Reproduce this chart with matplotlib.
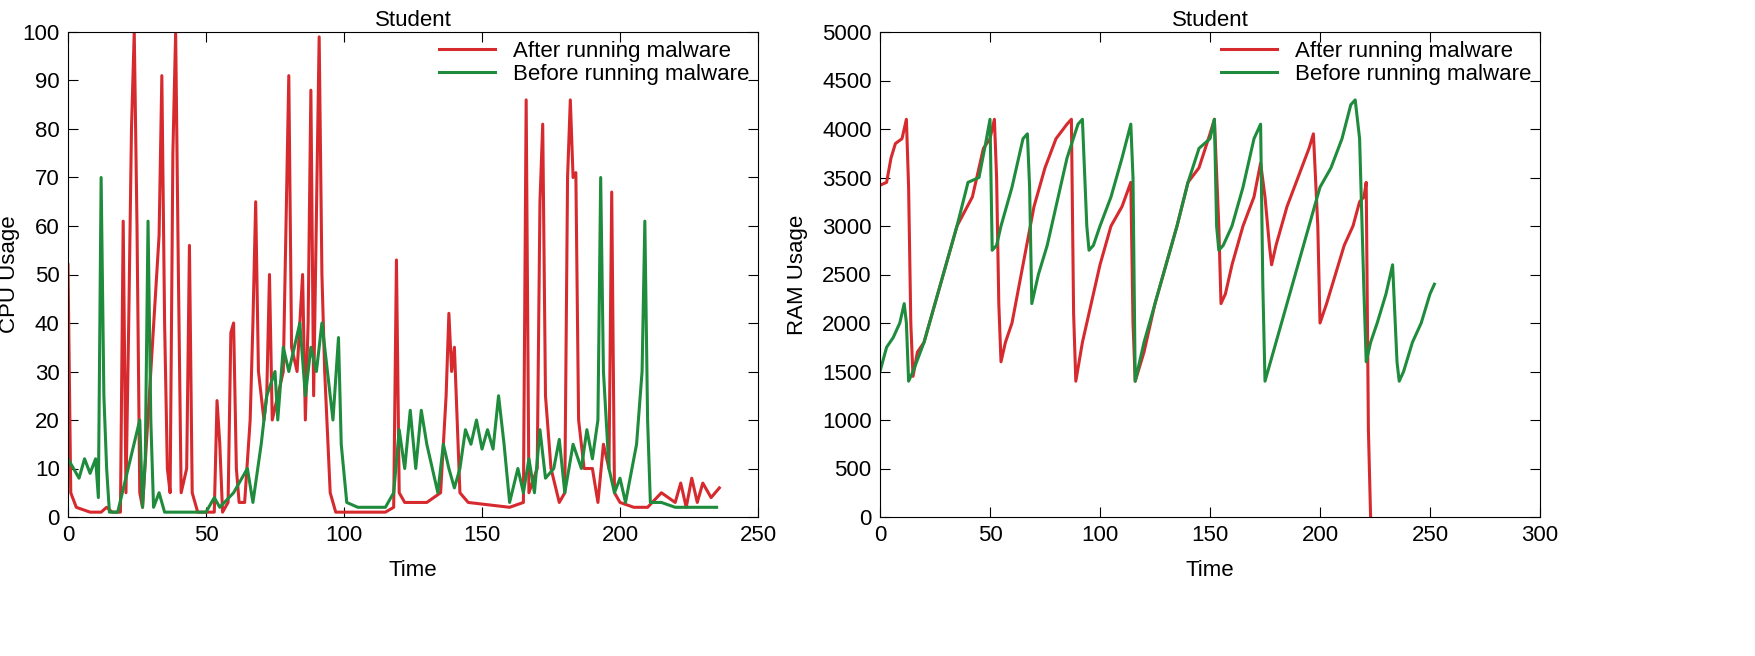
import matplotlib.pyplot as plt

plt.rcParams['font.family'] = 'Liberation Sans'

# CPU usage, after running malware (time, value)
cpu_after_t = [0, 1, 3, 8, 12, 14, 16, 19, 20, 21, 22, 23, 24, 25, 26, 27, 30, 33, 34, 35, 36, 37, 38, 39, 40, 41, 43, 44, 45, 47,
               53, 54, 55, 56, 58, 59, 60, 61, 62, 64, 66, 67, 68, 69, 71, 72, 73, 74, 76, 78, 80, 81, 83, 85, 86, 87, 88, 89,
               91, 92, 93, 95, 97, 100, 115, 118, 119, 120, 122, 130, 135, 137, 138, 139, 140, 141, 142, 145, 160, 165, 166,
               167, 170, 171, 172, 173, 175, 178, 180, 181, 182, 183, 184, 185, 187, 190, 192, 194, 196, 197, 198, 200, 205,
               210, 215, 220, 222, 224, 226, 228, 230, 233, 236]
cpu_after_v = [52, 5, 2, 1, 1, 2, 1, 1, 61, 5, 40, 80, 100, 60, 5, 2, 30, 58, 91, 40, 10, 5, 75, 100, 50, 5, 10, 56, 5, 1,
               1, 24, 15, 1, 3, 38, 40, 10, 3, 3, 20, 40, 65, 30, 20, 25, 50, 20, 25, 30, 91, 35, 30, 50, 20, 40, 88, 25,
               99, 50, 30, 5, 1, 1, 1, 2, 53, 5, 3, 3, 5, 25, 42, 30, 35, 20, 5, 3, 2, 3, 86,
               5, 10, 65, 81, 25, 10, 3, 5, 70, 86, 70, 71, 20, 10, 10, 3, 15, 10, 67, 5, 3, 2,
               2, 5, 3, 7, 2, 8, 3, 7, 4, 6]

# CPU usage, before running malware
cpu_before_t = [0, 2, 4, 6, 8, 10, 11, 12, 13, 14, 15, 18, 26, 27, 28, 29, 30, 31, 33, 35, 50, 53, 55, 60, 65, 67, 70, 72, 75,
                76, 78, 80, 82, 84, 86, 88, 90, 92, 94, 96, 98, 99, 101, 105, 115, 118, 120, 122, 124, 126, 128, 130, 132,
                134, 136, 138, 140, 142, 144, 146, 148, 150, 152, 154, 156, 158, 160, 163, 165, 167, 169, 171, 173, 176,
                178, 180, 183, 186, 188, 190, 192, 193, 194, 196, 198, 200, 202, 206, 208, 209, 210, 211, 215, 220, 230, 235]
cpu_before_v = [12, 10, 8, 12, 9, 12, 4, 70, 25, 10, 1, 1, 20, 2, 12, 61, 20, 2, 5, 1, 1, 4, 2, 5, 10, 3, 15, 25, 30,
                20, 35, 30, 35, 40, 25, 35, 30, 40, 30, 20, 37, 15, 3, 2, 2, 5, 18, 10, 22, 10, 22, 15, 10,
                5, 15, 10, 6, 10, 18, 15, 20, 14, 18, 14, 25, 15, 3, 10, 5, 12, 5, 18, 8, 10,
                16, 5, 15, 10, 18, 12, 20, 70, 30, 10, 5, 8, 3, 15, 30, 61, 20, 3, 3, 2, 2, 2]

# RAM usage, after running malware
ram_after_t = [0, 3, 5, 7, 10, 12, 13, 14, 15, 17, 20, 25, 30, 35, 42, 47, 50, 52, 53, 54, 55, 57, 60, 65, 70, 75, 80, 85, 87,
               88, 89, 92, 96, 100, 105, 110, 114, 115, 116, 120, 125, 130, 135, 140, 145, 150, 152, 154, 155, 157, 160,
               165, 170, 173, 175, 177, 178, 180, 185, 190, 195, 197, 199, 200, 203, 207, 211, 215, 218, 220, 221, 222, 223]
ram_after_v = [3420, 3450, 3700, 3850, 3900, 4100, 3400, 2000, 1450, 1700, 1800, 2200, 2600, 3000, 3300, 3800, 3900, 4100,
               3500, 2200, 1600, 1800, 2000, 2600, 3200, 3600, 3900, 4050, 4100, 2100, 1400, 1800, 2200, 2600, 3000, 3200,
               3450, 2000, 1400, 1700, 2200, 2600, 3000, 3450, 3600, 3950, 4100, 3000, 2200, 2300, 2600, 3000, 3300, 3650,
               3300, 2800, 2600, 2800, 3200, 3500, 3800, 3950, 3000, 2000, 2200, 2500, 2800, 3000, 3250, 3300, 3450, 900, 0]

# RAM usage, before running malware
ram_before_t = [0, 3, 6, 9, 11, 12, 13, 15, 20, 25, 30, 35, 40, 45, 48, 50, 51, 53, 55, 60, 65, 67, 68, 69, 72, 76, 80, 85, 90,
                92, 94, 95, 97, 100, 105, 110, 114, 115, 116, 120, 125, 130, 135, 140, 145, 150, 152, 153, 154, 156, 160,
                165, 170, 173, 174, 175, 180, 185, 190, 195, 200, 205, 210, 214, 216, 218, 220, 221, 223, 226, 230, 233,
                235, 236, 238, 242, 246, 250, 252]
ram_before_v = [1500, 1750, 1850, 2000, 2200, 2000, 1400, 1500, 1800, 2200, 2600, 3000, 3450, 3500, 3850, 4100, 2750, 2800,
                3000, 3400, 3900, 3950, 3400, 2200, 2500, 2800, 3200, 3700, 4050, 4100, 3000, 2750, 2800, 3000, 3300, 3700,
                4050, 3500, 1400, 1800, 2200, 2600, 3000, 3450, 3800, 3900, 4100, 3000, 2750, 2800, 3000, 3400, 3900, 4050,
                2400, 1400, 1800, 2200, 2600, 3000, 3400, 3600, 3900, 4250, 4300, 3900, 2300, 1600, 1800, 2000, 2300, 2600,
                1600, 1400, 1500, 1800, 2000, 2300, 2400]

RED = '#d62a2e'
GREEN = '#1e8c3c'
FONTSIZE = 16

fig = plt.figure(figsize=(17.55, 6.56), dpi=100)
ax1 = fig.add_axes([68 / 1755, 1 - 517 / 656, 690 / 1755, 485 / 656])
ax2 = fig.add_axes([880 / 1755, 1 - 517 / 656, 660 / 1755, 485 / 656])

ax1.plot(cpu_after_t, cpu_after_v, color=RED, linewidth=2.2, label='After running malware')
ax1.plot(cpu_before_t, cpu_before_v, color=GREEN, linewidth=2.2, label='Before running malware')
ax1.set_xlim(0, 250)
ax1.set_ylim(0, 100)
ax1.set_yticks(range(0, 101, 10))
ax1.set_ylabel('CPU Usage', fontsize=FONTSIZE, labelpad=2)

ax2.plot(ram_after_t, ram_after_v, color=RED, linewidth=2.2, label='After running malware')
ax2.plot(ram_before_t, ram_before_v, color=GREEN, linewidth=2.2, label='Before running malware')
ax2.set_xlim(0, 300)
ax2.set_ylim(0, 5000)
ax2.set_yticks(range(0, 5001, 500))
ax2.set_ylabel('RAM Usage', fontsize=FONTSIZE, labelpad=10)

for ax in (ax1, ax2):
    ax.set_title('Student', fontsize=FONTSIZE, pad=4)
    ax.set_xlabel('Time', fontsize=FONTSIZE, labelpad=10)
    ax.tick_params(direction='in', top=True, right=True, labelsize=FONTSIZE, length=7, pad=6)
    ax.legend(loc='upper right', frameon=False, fontsize=FONTSIZE, handlelength=2.5,
              borderpad=0.1, labelspacing=0.1, borderaxespad=0.3)

fig.savefig('out.png', dpi=100)
